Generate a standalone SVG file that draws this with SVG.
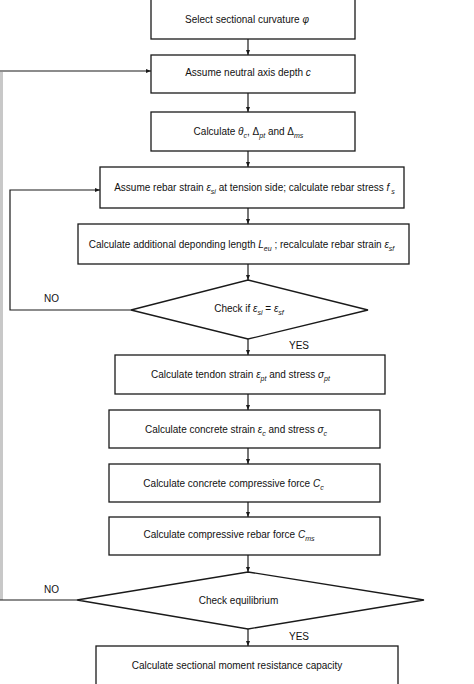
<svg xmlns="http://www.w3.org/2000/svg" width="474" height="684" viewBox="0 0 474 684">
<style>
  .box{fill:#fff;stroke:#1a1a1a;stroke-width:1.3}
  .t{font-family:"Liberation Sans",Arial,sans-serif;font-size:10px;fill:#111;text-anchor:middle}
  .l{font-family:"Liberation Sans",Arial,sans-serif;font-size:10px;fill:#111}
  .i{font-style:italic}
  .sub{font-size:7px;font-style:italic;baseline-shift:-2.5px}
  .c{fill:none;stroke:#1a1a1a;stroke-width:1.2}
</style>
<defs>
  <marker id="ah" viewBox="0 0 10 10" refX="10" refY="5" markerWidth="5" markerHeight="5" orient="auto" markerUnits="userSpaceOnUse">
    <path d="M0,1 L10,5 L0,9 Z" fill="#1a1a1a"/>
  </marker>
</defs>
<rect width="474" height="684" fill="#fff"/>

<g id="connectors">
  <line class="c" x1="248" y1="39" x2="248" y2="55" marker-end="url(#ah)"/>
  <line class="c" x1="248" y1="93" x2="248" y2="112" marker-end="url(#ah)"/>
  <line class="c" x1="248" y1="151" x2="248" y2="167" marker-end="url(#ah)"/>
  <line class="c" x1="248" y1="208" x2="248" y2="224" marker-end="url(#ah)"/>
  <line class="c" x1="248" y1="264" x2="248" y2="280" marker-end="url(#ah)"/>
  <line class="c" x1="248" y1="339" x2="248" y2="355" marker-end="url(#ah)"/>
  <line class="c" x1="248" y1="394" x2="248" y2="410" marker-end="url(#ah)"/>
  <line class="c" x1="248" y1="448" x2="248" y2="464" marker-end="url(#ah)"/>
  <line class="c" x1="248" y1="502" x2="248" y2="517" marker-end="url(#ah)"/>
  <line class="c" x1="248" y1="555" x2="248" y2="572" marker-end="url(#ah)"/>
  <line class="c" x1="248" y1="629" x2="248" y2="646" marker-end="url(#ah)"/>
  <!-- inner loop -->
  <polyline class="c" points="131,310 10,310 10,190 100,190" marker-end="url(#ah)"/>
  <!-- outer loop -->
  <line x1="1.5" y1="72" x2="1.5" y2="600" stroke="#c8c8c8" stroke-width="3"/>
  <line class="c" x1="77" y1="600" x2="0" y2="600"/>
  <line class="c" x1="0" y1="71" x2="151" y2="71" marker-end="url(#ah)"/>
  <text class="l" x="44" y="301.5">NO</text>
  <text class="l" x="289" y="348.5">YES</text>
  <text class="l" x="44" y="592.5">NO</text>
  <text class="l" x="289" y="640">YES</text>
</g>

<g id="n1">
  <rect class="box" x="151" y="-5" width="204" height="44"/>
  <text class="t" x="247" y="23">Select sectional curvature <tspan class="i">φ</tspan></text>
</g>
<g id="n2">
  <rect class="box" x="151" y="55" width="204" height="38"/>
  <text class="t" x="248" y="76">Assume neutral axis depth <tspan class="i">c</tspan></text>
</g>
<g id="n3">
  <rect class="box" x="151" y="112" width="204" height="39"/>
  <text class="t" x="248.5" y="135">Calculate <tspan class="i">θ</tspan><tspan class="sub">c</tspan><tspan>, Δ</tspan><tspan class="sub">pt</tspan><tspan> and Δ</tspan><tspan class="sub">ms</tspan></text>
</g>
<g id="n4">
  <rect class="box" x="100" y="167" width="304" height="41"/>
  <text class="t" x="254.5" y="190.5">Assume rebar strain <tspan class="i">ε</tspan><tspan class="sub">si</tspan><tspan> at tension side; calculate rebar stress </tspan><tspan class="i">f</tspan><tspan class="sub"> s</tspan></text>
</g>
<g id="n5">
  <rect class="box" x="78" y="224" width="331" height="40"/>
  <text class="t" x="241.5" y="247.5">Calculate additional deponding length <tspan class="i">L</tspan><tspan class="sub">eu</tspan><tspan> ; recalculate rebar strain </tspan><tspan class="i">ε</tspan><tspan class="sub">sf</tspan></text>
</g>
<g id="n6">
  <polygon class="box" points="248,280 368,310 248,339 131,310"/>
  <text class="t" x="249" y="311.5">Check if  <tspan class="i">ε</tspan><tspan class="sub">si</tspan><tspan> = </tspan><tspan class="i">ε</tspan><tspan class="sub">sf</tspan></text>
</g>
<g id="n7">
  <rect class="box" x="115" y="355" width="270" height="39"/>
  <text class="t" x="240.5" y="378">Calculate tendon strain <tspan class="i">ε</tspan><tspan class="sub">pt</tspan><tspan> and stress </tspan><tspan class="i">σ</tspan><tspan class="sub">pt</tspan></text>
</g>
<g id="n8">
  <rect class="box" x="109" y="410" width="271" height="38"/>
  <text class="t" x="236" y="433">Calculate concrete strain <tspan class="i">ε</tspan><tspan class="sub">c</tspan><tspan> and stress </tspan><tspan class="i">σ</tspan><tspan class="sub">c</tspan></text>
</g>
<g id="n9">
  <rect class="box" x="109" y="464" width="271" height="38"/>
  <text class="t" x="233.5" y="486.5">Calculate concrete compressive force <tspan class="i">C</tspan><tspan class="sub">c</tspan></text>
</g>
<g id="n10">
  <rect class="box" x="109" y="517" width="271" height="38"/>
  <text class="t" x="229" y="538">Calculate compressive rebar force <tspan class="i">C</tspan><tspan class="sub">ms</tspan></text>
</g>
<g id="n11">
  <polygon class="box" points="248,572 424,600 248,629 77,600"/>
  <text class="t" x="238.5" y="603.5">Check equilibrium</text>
</g>
<g id="n12">
  <rect class="box" x="96" y="646" width="302" height="44"/>
  <text class="t" x="237" y="668.5">Calculate sectional moment resistance capacity</text>
</g>
</svg>
